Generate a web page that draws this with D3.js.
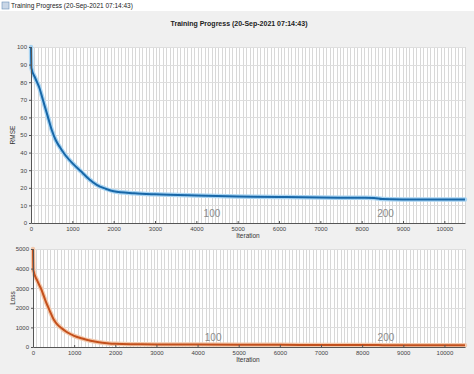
<!DOCTYPE html>
<meta charset="utf-8">
<script src="https://cdn.jsdelivr.net/npm/d3@7"></script>
<style>
body { margin: 0; background: #f0f0f0; font-family: "Liberation Sans", Arial, sans-serif; }
.tick text { fill: #444; font-size: 6px; }
.axis path, .axis line { stroke: #555; }
.grid line { stroke: #dedede; stroke-width: 1; }
.stripe { stroke: #d8d8d8; stroke-width: 1; }
.epochLabel { fill: #8a8a8a; font-size: 10px; }
.axLabel { fill: #333; font-size: 6.5px; }
</style>
<body>
<script>

// ---- data ----
var rmseIter = [0, 10, 100, 200, 300, 400, 500, 600, 700, 800, 1000, 1200, 1400, 1600, 1800, 2000, 2500, 3000, 4000, 5000, 6000, 7000, 8000, 8300, 8500, 9000, 10000, 10500];
var rmseVal  = [100, 88, 82.5, 77, 69, 61, 53, 47, 43, 39.5, 34, 29.5, 25, 21.5, 19.5, 18, 16.9, 16.3, 15.6, 15.1, 14.8, 14.5, 14.3, 14.2, 13.6, 13.4, 13.3, 13.4];

var lossIter = [0, 10, 100, 200, 300, 400, 500, 600, 700, 800, 1000, 1200, 1400, 1600, 1800, 2000, 2500, 3000, 4000, 5000, 6000, 7000, 8000, 8300, 8500, 9000, 10000, 10500];
var lossVal  = [5000, 3900, 3400, 2950, 2380, 1880, 1420, 1130, 950, 790, 570, 430, 320, 240, 190, 160, 143, 133, 122, 114, 110, 105, 102, 101, 92, 90, 88, 90];

var xTicks = [0, 1000, 2000, 3000, 4000, 5000, 6000, 7000, 8000, 9000, 10000];
var rmseTicks = [0, 10, 20, 30, 40, 50, 60, 70, 80, 90, 100];
var lossTicks = [0, 1000, 2000, 3000, 4000, 5000];
var epochLabels = [100, 200];
var iterPerEpoch = 42, numEpochs = 250, maxIter = 10500;

var width = 474, height = 374;

var svg = d3.select("body").append("svg")
    .attr("width", width)
    .attr("height", height);

// window title bar
svg.append("rect").attr("x", 0).attr("y", 0).attr("width", width).attr("height", 11).attr("fill", "#fff");
svg.append("rect").attr("x", 2).attr("y", 2).attr("width", 7).attr("height", 7).attr("fill", "#c9d6e6").attr("stroke", "#6a8fb8").attr("stroke-width", 0.6);
svg.append("text")
    .attr("x", 11).attr("y", 8)
    .style("font-size", "6.5px").style("fill", "#222")
    .text("Training Progress (20-Sep-2021 07:14:43)");

svg.append("text")
    .attr("x", 239).attr("y", 26)
    .attr("text-anchor", "middle")
    .style("font-size", "7px").style("font-weight", "bold").style("fill", "#222")
    .text("Training Progress (20-Sep-2021 07:14:43)");

function panel(cfg) {
  var x = d3.scaleLinear().domain([0, maxIter]).range([cfg.left, 465]);
  var y = d3.scaleLinear().domain(cfg.yDomain).range([cfg.bottom, cfg.top]);
  var g = svg.append("g");

  g.append("rect")
    .attr("x", cfg.left).attr("y", cfg.top)
    .attr("width", 465 - cfg.left).attr("height", cfg.bottom - cfg.top)
    .attr("fill", "#fff");

  // epoch stripes
  g.append("g").selectAll("line")
    .data(d3.range(2, numEpochs + 1, 2))
    .enter().append("line")
    .attr("class", "stripe")
    .attr("x1", function(d) { return Math.round(x(d * iterPerEpoch)) + 0.5; })
    .attr("x2", function(d) { return Math.round(x(d * iterPerEpoch)) + 0.5; })
    .attr("y1", cfg.top).attr("y2", cfg.bottom);

  // horizontal grid
  g.append("g").attr("class", "grid").selectAll("line")
    .data(cfg.yTicks)
    .enter().append("line")
    .attr("x1", cfg.left).attr("x2", 465)
    .attr("y1", function(d) { return Math.round(y(d)) + 0.5; })
    .attr("y2", function(d) { return Math.round(y(d)) + 0.5; });

  g.selectAll(".epochLabel")
    .data(epochLabels)
    .enter().append("text")
    .attr("class", "epochLabel")
    .attr("x", function(d) { return x(d * iterPerEpoch) - 1; })
    .attr("y", cfg.bottom - 6)
    .text(function(d) { return d; });

  var pts = cfg.iter.map(function(d, i) { return [d, cfg.val[i]]; });
  var line = d3.line()
    .x(function(d) { return x(d[0]); })
    .y(function(d) { return y(d[1]); })
    .curve(d3.curveMonotoneX);

  g.append("path").datum(pts)
    .attr("d", line).attr("fill", "none")
    .attr("stroke", cfg.halo).attr("stroke-width", 4.5)
    .attr("stroke-linejoin", "round").attr("stroke-linecap", "round");
  g.append("path").datum(pts)
    .attr("d", line).attr("fill", "none")
    .attr("stroke", cfg.color).attr("stroke-width", 2)
    .attr("stroke-linejoin", "round");

  g.append("g")
    .attr("class", "axis")
    .attr("transform", "translate(0," + cfg.bottom + ")")
    .call(d3.axisBottom(x).tickValues(xTicks).tickFormat(d3.format("d"))
      .tickSizeInner(-2).tickSizeOuter(0).tickPadding(4));

  g.append("g")
    .attr("class", "axis")
    .attr("transform", "translate(" + cfg.left + ",0)")
    .call(d3.axisLeft(y).tickValues(cfg.yTicks).tickFormat(d3.format("d"))
      .tickSizeInner(2).tickSizeOuter(0).tickPadding(2));

  g.append("text")
    .attr("class", "axLabel")
    .attr("x", 248).attr("y", cfg.bottom + 15)
    .attr("text-anchor", "middle")
    .text("Iteration");

  g.append("text")
    .attr("class", "axLabel")
    .attr("transform", "translate(" + cfg.labelX + "," + ((cfg.top + cfg.bottom) / 2) + ") rotate(-90)")
    .attr("text-anchor", "middle")
    .text(cfg.label);
}

panel({ left: 31, top: 47, bottom: 223, yDomain: [0, 100], yTicks: rmseTicks,
        iter: rmseIter, val: rmseVal, color: "#1767a8", halo: "#a9d4f2",
        label: "RMSE", labelX: 15 });

panel({ left: 33, top: 249, bottom: 347, yDomain: [0, 5000], yTicks: lossTicks,
        iter: lossIter, val: lossVal, color: "#c4501c", halo: "#f3c9ad",
        label: "Loss", labelX: 15 });

</script>
</body>
</html>
